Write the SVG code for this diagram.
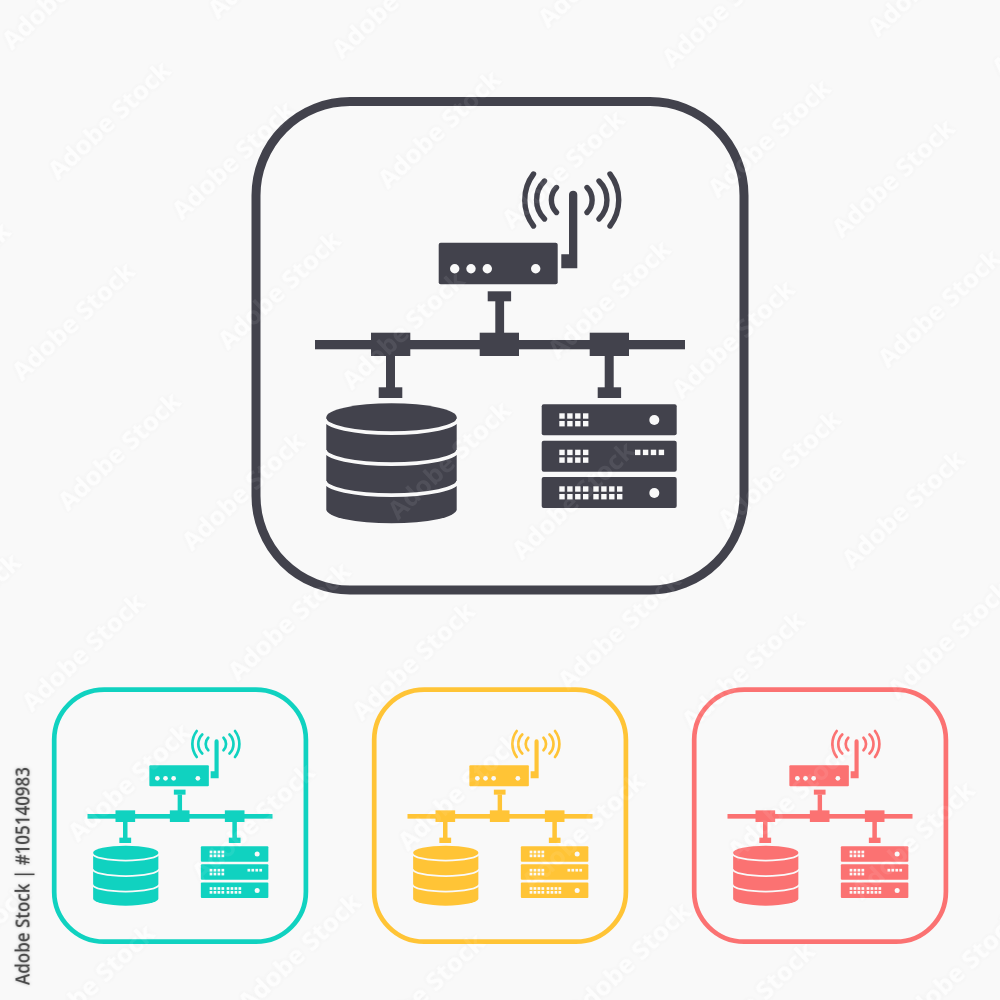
<svg xmlns="http://www.w3.org/2000/svg" width="1000" height="1000" viewBox="0 0 1000 1000">
<style>
.ink{fill:currentColor}
.h{fill:#f9f9f9}
.sep{fill:none;stroke:#f9f9f9;stroke-width:3.6}
.wave{fill:none;stroke:currentColor;stroke-width:5.4;stroke-linecap:round}
.box{fill:none}
.wm{font-family:"Open Sans","Liberation Sans",sans-serif;font-weight:700;font-size:25px;fill:#fff}
.id{font-family:"Open Sans","Liberation Sans",sans-serif;font-weight:600;font-size:19.5px;fill:#4a4a4a}
</style>
<defs>
<filter id="soft" x="-5%" y="-5%" width="110%" height="110%"><feGaussianBlur in="SourceGraphic" stdDeviation="0.5" result="b"/><feDropShadow in="b" dx="0" dy="0" stdDeviation="2.5" flood-color="#000" flood-opacity="0.07"/></filter>
<filter id="soft2" x="-5%" y="-30%" width="110%" height="160%"><feDropShadow dx="0" dy="0" stdDeviation="1.5" flood-color="#000" flood-opacity="0.25"/></filter>
<text id="wmt" class="wm" textLength="158" lengthAdjust="spacingAndGlyphs" transform="rotate(-43.5)">Adobe Stock</text>
<g id="wmpair"><use href="#wmt"/><use href="#wmt" transform="translate(-46 -130)"/></g>
<g id="wmrow">
<use href="#wmpair" transform="translate(-340 -340)"/><use href="#wmpair" transform="translate(-170 -170)"/><use href="#wmpair"/><use href="#wmpair" transform="translate(170 170)"/><use href="#wmpair" transform="translate(340 340)"/><use href="#wmpair" transform="translate(510 510)"/><use href="#wmpair" transform="translate(680 680)"/><use href="#wmpair" transform="translate(850 850)"/><use href="#wmpair" transform="translate(1020 1020)"/><use href="#wmpair" transform="translate(1190 1190)"/>
</g>
<g id="wmall">
<use href="#wmrow" transform="translate(28 -812)"/><use href="#wmrow" transform="translate(38 -481)"/><use href="#wmrow" transform="translate(48 -150)"/><use href="#wmrow" transform="translate(58 181)"/><use href="#wmrow" transform="translate(68 512)"/><use href="#wmrow" transform="translate(78 843)"/><use href="#wmrow" transform="translate(88 1174)"/>
</g>
<g id="grid4" class="h"><rect x="0" y="0" width="5.4" height="5.4"/><rect x="7.9" y="0" width="5.4" height="5.4"/><rect x="15.8" y="0" width="5.4" height="5.4"/><rect x="23.7" y="0" width="5.4" height="5.4"/><rect x="0" y="7.7" width="5.4" height="5.4"/><rect x="7.9" y="7.7" width="5.4" height="5.4"/><rect x="15.8" y="7.7" width="5.4" height="5.4"/><rect x="23.7" y="7.7" width="5.4" height="5.4"/></g>
</defs>
<rect id="background" width="1000" height="1000" fill="#f9f9f9"/>
<use id="watermark-under" href="#wmall" filter="url(#soft)" opacity="0.7"/>

<g id="icon-dark" style="color:#42424c">
<g id="icon">
<g id="connectors" class="ink">
<rect x="315" y="340" width="370" height="9.3"/>
<rect x="371" y="332.7" width="39.3" height="23.3"/>
<rect x="479.7" y="332.7" width="39.3" height="23.3"/>
<rect x="589.7" y="332.7" width="39.3" height="23.3"/>
<rect x="487.7" y="291.3" width="23.4" height="10"/>
<rect x="495.3" y="301" width="8.8" height="33"/>
<rect x="386" y="355" width="9" height="33"/>
<rect x="378.7" y="387.3" width="23.6" height="10.7"/>
<rect x="604.7" y="355" width="9" height="33"/>
<rect x="597.7" y="387.3" width="23.4" height="10.7"/>
</g>
<g id="router">
<rect class="ink" x="438.7" y="242.7" width="119" height="41.6" rx="2"/>
<circle class="h" cx="454.7" cy="268.7" r="4.7"/><circle class="h" cx="471" cy="268.7" r="4.7"/><circle class="h" cx="487.3" cy="268.7" r="4.7"/><circle class="h" cx="535.7" cy="268.7" r="4.7"/>
<path class="ink" d="M569 194.8a4.15 4.15 0 0 1 8.3 0V268.3H561.3V254.3H569Z"/>
<path class="wave" d="M533.5 174A43 43 0 0 0 533.5 226"/>
<path class="wave" d="M544.5 181A26.7 26.7 0 0 0 544.5 219"/>
<path class="wave" d="M556.5 187.5A17.8 17.8 0 0 0 556.5 212.5"/>
<path class="wave" d="M610 174A43 43 0 0 1 610 226"/>
<path class="wave" d="M599 181A26.7 26.7 0 0 1 599 219"/>
<path class="wave" d="M587 187.5A17.8 17.8 0 0 1 587 212.5"/>
</g>
<g id="database">
<path class="ink" d="M326.3 417.3A65.2 14 0 0 1 456.7 417.3V509.3A65.2 14 0 0 1 326.3 509.3Z"/>
<path class="sep" d="M325 419A66 14 0 0 0 458 419"/>
<path class="sep" d="M325 450A66 14 0 0 0 458 450"/>
<path class="sep" d="M325 481A66 14 0 0 0 458 481"/>
</g>
<g id="server-rack">
<rect class="ink" x="541.7" y="404.3" width="135" height="31" rx="2"/>
<rect class="ink" x="541.7" y="440.7" width="135" height="31" rx="2"/>
<rect class="ink" x="541.7" y="477" width="135" height="31" rx="2"/>
<use href="#grid4" x="559.3" y="413.3"/>
<circle class="h" cx="654.3" cy="420" r="5"/>
<use href="#grid4" x="559.3" y="449.7"/>
<g class="h"><rect x="635" y="449.7" width="5.4" height="5.4"/><rect x="642.9" y="449.7" width="5.4" height="5.4"/><rect x="650.8" y="449.7" width="5.4" height="5.4"/><rect x="658.7" y="449.7" width="5.4" height="5.4"/></g>
<use href="#grid4" x="559.3" y="486.3"/>
<use href="#grid4" x="593.3" y="486.3"/>
<circle class="h" cx="654.3" cy="493" r="5"/>
</g>
</g>
<rect id="frame-dark" class="box" x="256" y="101.5" width="488" height="488.5" rx="94" stroke="#42424c" stroke-width="9"/>
</g>

<g id="icon-teal" style="color:#10d2c0">
<use href="#icon" transform="translate(-70 644) scale(.5)"/>
<rect class="box" x="54.2" y="689.7" width="251.7" height="252" rx="50" stroke="#10d2c0" stroke-width="4.7"/>
</g>
<g id="icon-yellow" style="color:#ffc436">
<use href="#icon" transform="translate(250 644) scale(.5)"/>
<rect class="box" x="374.2" y="689.7" width="251.7" height="252" rx="50" stroke="#ffc436" stroke-width="4.7"/>
</g>
<g id="icon-red" style="color:#fb7272">
<use href="#icon" transform="translate(570 644) scale(.5)"/>
<rect class="box" x="694.2" y="689.7" width="251.7" height="252" rx="50" stroke="#fb7272" stroke-width="4.7"/>
</g>

<use id="watermark-over" href="#wmall" opacity="0.08"/>
<text id="stock-id" class="id" transform="translate(29.5 985) rotate(-90)" textLength="218" lengthAdjust="spacingAndGlyphs" filter="url(#soft2)">Adobe Stock | #105140983</text>
</svg>
